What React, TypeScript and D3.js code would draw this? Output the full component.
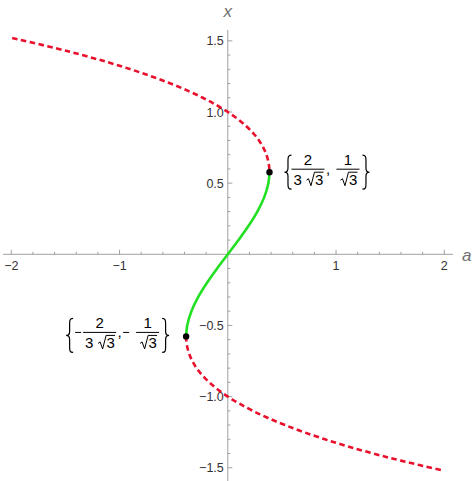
import React from "react";
import * as d3 from "d3";

// upper unstable branch (dashed): a vs x
const upperX = [1.52, 1.45, 1.4, 1.35, 1.3, 1.25, 1.2, 1.15, 1.1, 1.05, 1.0, 0.95, 0.9, 0.85, 0.8, 0.75, 0.7, 0.65, 0.6, 0.577];
const upperA = [-1.992, -1.599, -1.344, -1.11, -0.897, -0.703, -0.528, -0.371, -0.231, -0.108, 0, 0.093, 0.171, 0.236, 0.288, 0.328, 0.357, 0.375, 0.384, 0.385];

// lower unstable branch (dashed)
const lowerX = [-0.577, -0.6, -0.65, -0.7, -0.75, -0.8, -0.85, -0.9, -0.95, -1.0, -1.05, -1.1, -1.15, -1.2, -1.25, -1.3, -1.35, -1.4, -1.45, -1.52];
const lowerA = [-0.385, -0.384, -0.375, -0.357, -0.328, -0.288, -0.236, -0.171, -0.093, 0, 0.108, 0.231, 0.371, 0.528, 0.703, 0.897, 1.11, 1.344, 1.599, 1.992];

// stable middle branch (solid green)
const midX = [-0.577, -0.5, -0.4, -0.3, -0.2, -0.1, 0, 0.1, 0.2, 0.3, 0.4, 0.5, 0.577];
const midA = [-0.385, -0.375, -0.336, -0.273, -0.192, -0.099, 0, 0.099, 0.192, 0.273, 0.336, 0.375, 0.385];

// fold points
const foldA = [0.385, -0.385];
const foldX = [0.577, -0.577];

const aTicks = [-2, -1, 1, 2];
const xTicks = [-1.5, -1.0, -0.5, 0.5, 1.0, 1.5];

const W = 474;
const H = 481;
const FONT = "'Liberation Sans', Arial, sans-serif";

const sx = d3.scaleLinear().domain([-2, 2]).range([11.3, 444.3]);
const sy = d3.scaleLinear().domain([-1, 1]).range([396.6, 112]);

const toPts = (as: number[], xs: number[]) => as.map((a, i) => [a, xs[i]] as [number, number]);

const line = d3
  .line<[number, number]>()
  .x((d) => sx(d[0]))
  .y((d) => sy(d[1]))
  .curve(d3.curveCatmullRom);

const minorA = d3.range(-2, 2.001, 0.2).filter((v) => Math.abs(v - Math.round(v)) > 0.01);
const minorX = d3.range(-1.5, 1.501, 0.1).filter((v) => Math.abs(v * 2 - Math.round(v * 2)) > 0.01);

function brace(x0: number, t: number, b: number, open: boolean) {
  const m = (t + b) / 2;
  const s = open ? 1 : -1;
  const X = (d: number) => x0 + s * d;
  return `M${X(7)},${t} C${X(3.5)},${t} ${X(3.5)},${t + 2} ${X(3.5)},${t + 6} L${X(3.5)},${m - 4} C${X(3.5)},${m - 1} ${X(2)},${m} ${X(0)},${m} C${X(2)},${m} ${X(3.5)},${m + 1} ${X(3.5)},${m + 4} L${X(3.5)},${b - 6} C${X(3.5)},${b - 2} ${X(3.5)},${b} ${X(7)},${b}`;
}

// radical sign + overline over a "3"
function Sqrt3({ x, base }: { x: number; base: number }) {
  return (
    <g>
      <path
        d={`M${x},${base - 5} L${x + 2},${base - 6.5} L${x + 4.5},${base + 0.5} L${x + 8},${base - 13} L${x + 17},${base - 13}`}
        fill="none"
        stroke="#000"
        strokeWidth={1}
      />
      <text x={x + 8.5} y={base} fontSize={15} fontFamily={FONT}>3</text>
    </g>
  );
}

function FoldLabel({ x0, yBar, neg }: { x0: number; yBar: number; neg: boolean }) {
  const numBase = yBar - 4;
  const denBase = yBar + 16;
  const items: React.ReactNode[] = [];
  let cx = x0;
  items.push(<path key="ob" d={brace(cx, yBar - 14, yBar + 20, true)} fill="none" stroke="#000" strokeWidth={1.2} />);
  cx += 7;
  if (neg) {
    items.push(<line key="m1" x1={cx + 2} x2={cx + 8} y1={yBar} y2={yBar} stroke="#000" strokeWidth={1} />);
    cx += 10;
  }
  // 2 / (3 sqrt3)
  const w1 = 33;
  items.push(<line key="b1" x1={cx} x2={cx + w1} y1={yBar} y2={yBar} stroke="#000" strokeWidth={1} />);
  items.push(<text key="n1" x={cx + w1 / 2} y={numBase} textAnchor="middle" fontSize={15} fontFamily={FONT}>2</text>);
  items.push(<text key="d1" x={cx + 2} y={denBase} fontSize={15} fontFamily={FONT}>3</text>);
  items.push(<Sqrt3 key="s1" x={cx + 15} base={denBase} />);
  cx += w1;
  items.push(<text key="c" x={cx + 1.5} y={yBar + 5} fontSize={15} fontFamily={FONT}>,</text>);
  if (neg) {
    items.push(<line key="m2" x1={cx + 7} x2={cx + 13} y1={yBar} y2={yBar} stroke="#000" strokeWidth={1} />);
    cx += 20;
  } else {
    cx += 12;
  }
  // 1 / sqrt3
  const w2 = 23;
  items.push(<line key="b2" x1={cx} x2={cx + w2} y1={yBar} y2={yBar} stroke="#000" strokeWidth={1} />);
  items.push(<text key="n2" x={cx + w2 / 2} y={numBase} textAnchor="middle" fontSize={15} fontFamily={FONT}>1</text>);
  items.push(<Sqrt3 key="s2" x={cx + 4} base={denBase} />);
  cx += w2 + 10;
  items.push(<path key="cb" d={brace(cx, yBar - 14, yBar + 20, false)} fill="none" stroke="#000" strokeWidth={1.2} />);
  return <g>{items}</g>;
}

const App: React.FC = () => {
  const x0 = sx(0);
  const y0 = sy(0);
  return (
    <svg width={W} height={H} style={{ position: "absolute", left: 0, top: 0, background: "#fff" }}>
      {/* axes */}
      <line x1={3} x2={453} y1={y0} y2={y0} stroke="#a0a0a0" strokeWidth={1} />
      <line x1={x0} x2={x0} y1={30} y2={H} stroke="#a0a0a0" strokeWidth={1} />
      {aTicks.map((t) => (
        <g key={`at${t}`}>
          <line x1={sx(t)} x2={sx(t)} y1={y0} y2={y0 - 4.5} stroke="#a0a0a0" />
          <text x={sx(t)} y={y0 + 16} textAnchor="middle" fontSize={12.5} fill="#333" fontFamily={FONT}>
            {t < 0 ? `\u2212${-t}` : t}
          </text>
        </g>
      ))}
      {minorA.map((t) => (
        <line key={`am${t}`} x1={sx(t)} x2={sx(t)} y1={y0} y2={y0 - 2.5} stroke="#a0a0a0" />
      ))}
      {xTicks.map((t) => (
        <g key={`xt${t}`}>
          <line x1={x0} x2={x0 + 4.5} y1={sy(t)} y2={sy(t)} stroke="#a0a0a0" />
          <text x={x0 - 4} y={sy(t) + 4.5} textAnchor="end" fontSize={12.5} fill="#333" fontFamily={FONT}>
            {t < 0 ? `\u2212${(-t).toFixed(1)}` : t.toFixed(1)}
          </text>
        </g>
      ))}
      {minorX.map((t) => (
        <line key={`xm${t}`} x1={x0} x2={x0 + 2.5} y1={sy(t)} y2={sy(t)} stroke="#a0a0a0" />
      ))}
      <text x={x0} y={17} textAnchor="middle" fontSize={17} fontStyle="italic" fill="#707070" fontFamily={FONT}>x</text>
      <text x={462} y={261} fontSize={17} fontStyle="italic" fill="#707070" fontFamily={FONT}>a</text>

      {/* branches */}
      <path d={line(toPts(upperA, upperX)) ?? ""} fill="none" stroke="#e8102c" strokeWidth={2.6} strokeDasharray="5.5,3.5" />
      <path d={line(toPts(lowerA, lowerX)) ?? ""} fill="none" stroke="#e8102c" strokeWidth={2.6} strokeDasharray="5.5,3.5" />
      <path d={line(toPts(midA, midX)) ?? ""} fill="none" stroke="#22e022" strokeWidth={2.6} />

      {foldA.map((a, i) => (
        <circle key={`f${i}`} cx={sx(a)} cy={sy(foldX[i])} r={3.2} fill="#000" />
      ))}

      <FoldLabel x0={sx(foldA[0]) + 15} yBar={sy(foldX[0]) - 3} neg={false} />
      <FoldLabel x0={sx(foldA[1]) - 120} yBar={sy(foldX[1]) - 4} neg={true} />
    </svg>
  );
};

export default App;
